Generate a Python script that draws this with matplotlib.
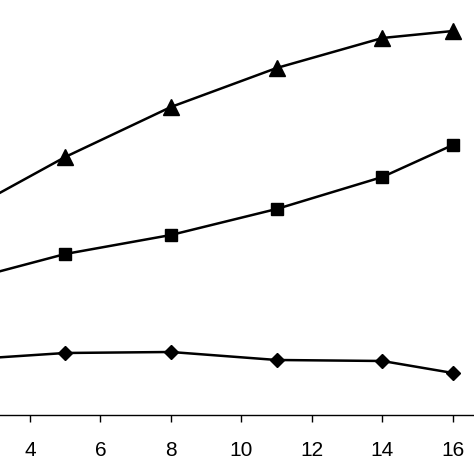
import matplotlib
matplotlib.use("Agg")
import matplotlib.pyplot as plt

x = [2, 5, 8, 11, 14, 16]
tri = [20.0, 25.8, 30.8, 34.7, 37.7, 38.4]
sq = [13.3, 16.1, 18.0, 20.6, 23.8, 27.0]
dia = [5.5, 6.2, 6.3, 5.5, 5.4, 4.2]
xticks = [4, 6, 8, 10, 12, 14, 16]

plt.rcParams['font.family'] = ['Liberation Sans', 'DejaVu Sans']
fig = plt.figure(figsize=(4.74, 4.74), dpi=100)
ax = fig.add_axes([0, 0.1245, 1, 0.8755])
ax.plot(x, tri, color='black', lw=1.8, marker='^', ms=11)
ax.plot(x, sq, color='black', lw=1.8, marker='s', ms=9)
ax.plot(x, dia, color='black', lw=1.8, marker='D', ms=7.5)
ax.set_xlim(3.15, 16.6)
ax.set_ylim(0, 41.5)
for s in ['left', 'top', 'right']:
    ax.spines[s].set_visible(False)
ax.spines['bottom'].set_linewidth(1.0)
ax.set_yticks([])
ax.set_xticks(xticks)
ax.tick_params(axis='x', direction='out', length=5, width=1, pad=14, labelsize=15)
fig.savefig('out.png', dpi=100)
